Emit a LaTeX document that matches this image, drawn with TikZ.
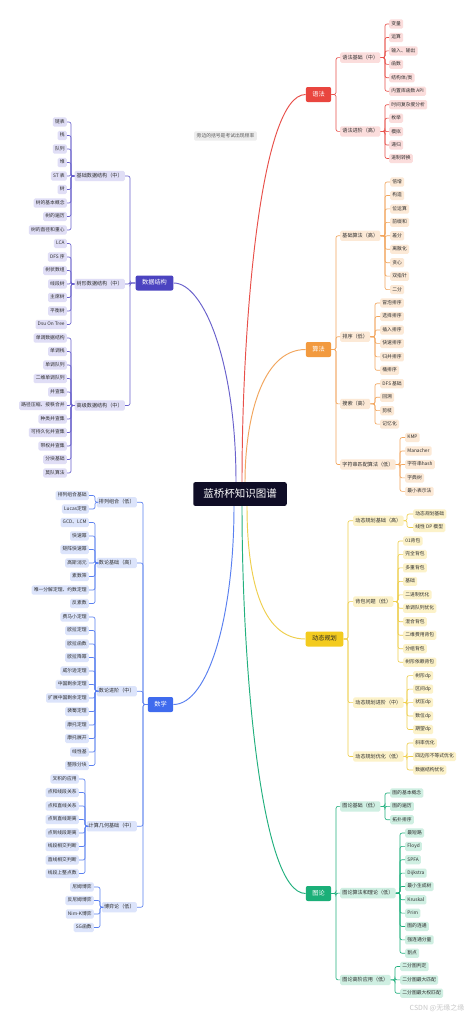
\documentclass[tikz,border=0pt]{standalone}
\usepackage{fontspec}
\setmainfont{Noto Sans CJK SC}

% branch colours
\definecolor{redmain}{HTML}{E9463F}
\definecolor{redline}{HTML}{E8504A}
\definecolor{redfill}{HTML}{FBDDDC}
\definecolor{orangemain}{HTML}{F29A3F}
\definecolor{orangeline}{HTML}{F2A65E}
\definecolor{orangefill}{HTML}{FCE9D6}
\definecolor{yellowmain}{HTML}{F3CB1F}
\definecolor{yellowline}{HTML}{EFCF4E}
\definecolor{yellowfill}{HTML}{FCF2C9}
\definecolor{greenmain}{HTML}{1BAF78}
\definecolor{greenline}{HTML}{22B07E}
\definecolor{greenfill}{HTML}{CFEFE2}
\definecolor{indigomain}{HTML}{4B43C0}
\definecolor{indigoline}{HTML}{6A62CC}
\definecolor{indigofill}{HTML}{E0DEF6}
\definecolor{bluemain}{HTML}{3F6BEE}
\definecolor{blueline}{HTML}{5A80F0}
\definecolor{bluefill}{HTML}{DCE4FB}
\definecolor{titlebg}{HTML}{0F0D26}

\tikzset{
  leaf/.style={rounded corners=1.5pt, inner xsep=2.2pt, inner ysep=2.3pt,
    text height=3.7pt, text depth=0.9pt, text=black!82,
    font=\fontsize{4.8}{5.5}\selectfont},
  sub/.style={leaf, inner ysep=2.6pt, text height=4.1pt, text depth=1pt,
    font=\fontsize{5.1}{6}\selectfont},
  topic/.style={rounded corners=2pt, inner xsep=6.5pt, inner ysep=4.4pt,
    text height=5pt, text depth=1.2pt, text=white,
    font=\fontsize{6.2}{7}\selectfont},
  link/.style={rounded corners=2pt, line width=0.65pt},
  curve/.style={line width=0.95pt},
}

\begin{document}
\begin{tikzpicture}[x=1pt, y=-1pt]

    \useasboundingbox[fill=white] (0,0) rectangle (474,1017);

    % centre and note
    \node[fill=titlebg, rounded corners=2pt, text=white, inner xsep=10pt, inner ysep=6.6pt,
          text height=8.5pt, text depth=2pt, font=\fontsize{10.5}{12}\selectfont]
          (title) at (240,494) {蓝桥杯知识图谱};
    \node[fill=black!7, rounded corners=1.5pt, text=black!65, inner sep=2.5pt,
          font=\fontsize{4.8}{5.5}\selectfont] (note) at (225.5,136) {旁边的括号是考试出现频率};
    \node[text=black!22, font=\fontsize{7}{8}\selectfont] (mark) at (437,1008) {CSDN @无缘之缘};

    % main topics
    \node[topic, fill=redmain] (yufa) at (318.5,94.5) {语法};
    \node[topic, fill=orangemain] (suanfa) at (318.5,349.5) {算法};
    \node[topic, fill=yellowmain, text=black!85] (dongtai) at (324.5,639) {动态规划};
    \node[topic, fill=greenmain] (tulun) at (318.5,893.5) {图论};
    \node[topic, fill=indigomain] (shuju) at (154.5,283) {数据结构};
    \node[topic, fill=bluemain] (shuxue) at (160.5,704.5) {数学};

    % curves from the centre
    \draw[curve, redline] ([xshift=2pt]title.north) .. controls +(0,-160) and +(-45,0) .. (yufa.west);
    \draw[curve, orangeline] ([xshift=5pt]title.north) .. controls +(0,-60) and +(-45,0) .. (suanfa.west);
    \draw[curve, indigoline] ([xshift=-4pt]title.north) .. controls +(0,-120) and +(30,0) .. (shuju.east);
    \draw[curve, yellowline] ([xshift=7pt]title.south) .. controls +(0,70) and +(-45,0) .. (dongtai.west);
    \draw[curve, greenline] ([xshift=2pt]title.south) .. controls +(0,160) and +(-45,0) .. (tulun.west);
    \draw[curve, blueline] ([xshift=-6pt]title.south) .. controls +(0,110) and +(35,0) .. (shuxue.east);

    % ---- 语法 ----
    \node[sub, fill=redfill, anchor=west] (yufaA) at (340,57.6) {语法基础（中）};
    \node[sub, fill=redfill, anchor=west] (yufaB) at (340,131.4) {语法进阶（高）};
    \foreach \s in {yufaA,yufaB} \draw[link, redline] (\s.west) -- ++(-4,0) |- (yufa.east);
    \foreach \t [count=\k from 0] in {变量,运算,输入、输出,函数,结构体/类,内置库函数 API} {
        \node[leaf, fill=redfill, anchor=west] (yufaA\k) at (389,24+13.45*\k) {\t};
        \draw[link, redline] (yufaA\k.west) -- ++(-4,0) |- (yufaA.east);
    }
    \foreach \t [count=\k from 6] in {时间复杂度分析,枚举,模拟,递归,进制转换} {
        \node[leaf, fill=redfill, anchor=west] (yufaB\k) at (389,24+13.45*\k) {\t};
        \draw[link, redline] (yufaB\k.west) -- ++(-4,0) |- (yufaB.east);
    }

    % ---- 算法 ----
    \node[sub, fill=orangefill, anchor=west] (suanfaA) at (340,235.8) {基础算法（高）};
    \node[sub, fill=orangefill, anchor=west] (suanfaB) at (340,336.7) {排序（低）};
    \node[sub, fill=orangefill, anchor=west] (suanfaC) at (340,403.9) {搜索（高）};
    \node[sub, fill=orangefill, anchor=west] (suanfaD) at (340,464.5) {字符串匹配算法（低）};
    \foreach \s in {suanfaA,suanfaB,suanfaC,suanfaD} \draw[link, orangeline] (\s.west) -- ++(-4,0) |- (suanfa.east);
    \foreach \t [count=\k from 0] in {倍增,构造,位运算,前缀和,差分,离散化,贪心,双指针,二分} {
        \node[leaf, fill=orangefill, anchor=west] (suanfaA\k) at (390,182+13.45*\k) {\t};
        \draw[link, orangeline] (suanfaA\k.west) -- ++(-5,0) |- (suanfaA.east);
    }
    \foreach \t [count=\k from 9] in {冒泡排序,选择排序,插入排序,快速排序,归并排序,桶排序} {
        \node[leaf, fill=orangefill, anchor=west] (suanfaB\k) at (380,182+13.45*\k) {\t};
        \draw[link, orangeline] (suanfaB\k.west) -- ++(-5,0) |- (suanfaB.east);
    }
    \foreach \t [count=\k from 15] in {DFS 基础,回溯,剪枝,记忆化} {
        \node[leaf, fill=orangefill, anchor=west] (suanfaC\k) at (380,182+13.45*\k) {\t};
        \draw[link, orangeline] (suanfaC\k.west) -- ++(-5,0) |- (suanfaC.east);
    }
    \foreach \t [count=\k from 19] in {KMP,Manacher,字符串hash,字典树,最小表示法} {
        \node[leaf, fill=orangefill, anchor=west] (suanfaD\k) at (405,182+13.45*\k) {\t};
        \draw[link, orangeline] (suanfaD\k.west) -- ++(-5,0) |- (suanfaD.east);
    }

    % ---- 动态规划 ----
    \node[sub, fill=yellowfill, anchor=west] (dongtaiA) at (353,520.7) {动态规划基础（高）};
    \node[sub, fill=yellowfill, anchor=west] (dongtaiB) at (353,601.6) {背包问题（低）};
    \node[sub, fill=yellowfill, anchor=west] (dongtaiC) at (353,702.6) {动态规划进阶（中）};
    \node[sub, fill=yellowfill, anchor=west] (dongtaiD) at (353,756.5) {动态规划优化（低）};
    \foreach \s in {dongtaiA,dongtaiB,dongtaiC,dongtaiD} \draw[link, yellowline] (\s.west) -- ++(-5,0) |- (dongtai.east);
    \foreach \t [count=\k from 0] in {动态规划基础,线性 DP 模型} {
        \node[leaf, fill=yellowfill, anchor=west] (dongtaiA\k) at (413,514+13.47*\k) {\t};
        \draw[link, yellowline] (dongtaiA\k.west) -- ++(-6,0) |- (dongtaiA.east);
    }
    \foreach \t [count=\k from 2] in {01背包,完全背包,多重背包,基础,二进制优化,单调队列优化,混合背包,二维费用背包,分组背包,树形依赖背包} {
        \node[leaf, fill=yellowfill, anchor=west] (dongtaiB\k) at (403,514+13.47*\k) {\t};
        \draw[link, yellowline] (dongtaiB\k.west) -- ++(-5,0) |- (dongtaiB.east);
    }
    \foreach \t [count=\k from 12] in {树形dp,区间dp,状压dp,数位dp,期望dp} {
        \node[leaf, fill=yellowfill, anchor=west] (dongtaiC\k) at (413,514+13.47*\k) {\t};
        \draw[link, yellowline] (dongtaiC\k.west) -- ++(-6,0) |- (dongtaiC.east);
    }
    \foreach \t [count=\k from 17] in {斜率优化,四边形不等式优化,数据结构优化} {
        \node[leaf, fill=yellowfill, anchor=west] (dongtaiD\k) at (413,514+13.47*\k) {\t};
        \draw[link, yellowline] (dongtaiD\k.west) -- ++(-6,0) |- (dongtaiD.east);
    }

    % ---- 图论 ----
    \node[sub, fill=greenfill, anchor=west] (tulunA) at (340,806.4) {图论基础（低）};
    \node[sub, fill=greenfill, anchor=west] (tulunB) at (340,893.1) {图论算法和理论（低）};
    \node[sub, fill=greenfill, anchor=west] (tulunC) at (340,979.9) {图论高阶应用（低）};
    \foreach \s in {tulunA,tulunB,tulunC} \draw[link, greenline] (\s.west) -- ++(-4,0) |- (tulun.east);
    \foreach \t [count=\k from 0] in {图的基本概念,图的遍历,拓扑排序} {
        \node[leaf, fill=greenfill, anchor=west] (tulunA\k) at (390,793+13.35*\k) {\t};
        \draw[link, greenline] (tulunA\k.west) -- ++(-5,0) |- (tulunA.east);
    }
    \foreach \t [count=\k from 3] in {最短路,Floyd,SPFA,Dijkstra,最小生成树,Kruskal,Prim,图的连通,强连通分量,割点} {
        \node[leaf, fill=greenfill, anchor=west] (tulunB\k) at (405,793+13.35*\k) {\t};
        \draw[link, greenline] (tulunB\k.west) -- ++(-5,0) |- (tulunB.east);
    }
    \foreach \t [count=\k from 13] in {二分图判定,二分图最大匹配,二分图最大权匹配} {
        \node[leaf, fill=greenfill, anchor=west] (tulunC\k) at (400,793+13.35*\k) {\t};
        \draw[link, greenline] (tulunC\k.west) -- ++(-5,0) |- (tulunC.east);
    }

    % ---- 数据结构 ----
    \node[sub, fill=indigofill, anchor=east] (shujuA) at (125,176) {基础数据结构（中）};
    \node[sub, fill=indigofill, anchor=east] (shujuB) at (125,284) {树形数据结构（中）};
    \node[sub, fill=indigofill, anchor=east] (shujuC) at (125,405.5) {高级数据结构（中）};
    \foreach \s in {shujuA,shujuB,shujuC} \draw[link, indigoline] (\s.east) -- ++(5,0) |- (shuju.west);
    \foreach \t [count=\k from 0] in {链表,栈,队列,堆,ST 表,树,树的基本概念,树的遍历,树的直径和重心} {
        \node[leaf, fill=indigofill, anchor=east] (shujuA\k) at (67,122+13.5*\k) {\t};
        \draw[link, indigoline] (shujuA\k.east) -- ++(4,0) |- (shujuA.west);
    }
    \foreach \t [count=\k from 9] in {LCA,DFS 序,树状数组,线段树,主席树,平衡树,Dsu On Tree} {
        \node[leaf, fill=indigofill, anchor=east] (shujuB\k) at (67,122+13.5*\k) {\t};
        \draw[link, indigoline] (shujuB\k.east) -- ++(4,0) |- (shujuB.west);
    }
    \foreach \t [count=\k from 16] in {单调数据结构,单调栈,单调队列,二维单调队列,并查集,路径压缩、按秩合并,种类并查集,可持久化并查集,带权并查集,分块基础,莫队算法} {
        \node[leaf, fill=indigofill, anchor=east] (shujuC\k) at (67,122+13.5*\k) {\t};
        \draw[link, indigoline] (shujuC\k.east) -- ++(4,0) |- (shujuC.west);
    }

    % ---- 数学 ----
    \node[sub, fill=bluefill, anchor=east] (shuxueA) at (137,502.2) {排列组合（低）};
    \node[sub, fill=bluefill, anchor=east] (shuxueB) at (137,563) {数论基础（高）};
    \node[sub, fill=bluefill, anchor=east] (shuxueC) at (137,691.2) {数论进阶（中）};
    \node[sub, fill=bluefill, anchor=east] (shuxueD) at (137,826.2) {计算几何基础（中）};
    \node[sub, fill=bluefill, anchor=east] (shuxueE) at (137,907.2) {博弈论（低）};
    \foreach \s in {shuxueA,shuxueB,shuxueC,shuxueD,shuxueE} \draw[link, blueline] (\s.east) -- ++(6,0) |- (shuxue.west);
    \foreach \t [count=\k from 0] in {排列组合基础,Lucas定理} {
        \node[leaf, fill=bluefill, anchor=east] (shuxueA\k) at (89,495.5+13.5*\k) {\t};
        \draw[link, blueline] (shuxueA\k.east) -- ++(6,0) |- (shuxueA.west);
    }
    \foreach \t [count=\k from 2] in {GCD、LCM,快速幂,矩阵快速幂,高斯消元,素数筛,唯一分解定理、约数定理,反素数} {
        \node[leaf, fill=bluefill, anchor=east] (shuxueB\k) at (89,495.5+13.5*\k) {\t};
        \draw[link, blueline] (shuxueB\k.east) -- ++(6,0) |- (shuxueB.west);
    }
    \foreach \t [count=\k from 9] in {费马小定理,欧拉定理,欧拉函数,欧拉降幂,威尔逊定理,中国剩余定理,扩展中国剩余定理,裴蜀定理,康托定理,康托展开,线性基,整除分块} {
        \node[leaf, fill=bluefill, anchor=east] (shuxueC\k) at (89,495.5+13.5*\k) {\t};
        \draw[link, blueline] (shuxueC\k.east) -- ++(6,0) |- (shuxueC.west);
    }
    \foreach \t [count=\k from 21] in {叉积的应用,点和线段关系,点和直线关系,点到直线距离,点到线段距离,线段相交判断,直线相交判断,线段上整点数} {
        \node[leaf, fill=bluefill, anchor=east] (shuxueD\k) at (79,495.5+13.5*\k) {\t};
        \draw[link, blueline] (shuxueD\k.east) -- ++(6,0) |- (shuxueD.west);
    }
    \foreach \t [count=\k from 29] in {尼姆博弈,反尼姆博弈,Nim-K博弈,SG函数} {
        \node[leaf, fill=bluefill, anchor=east] (shuxueE\k) at (94,495.5+13.5*\k) {\t};
        \draw[link, blueline] (shuxueE\k.east) -- ++(6,0) |- (shuxueE.west);
    }

\end{tikzpicture}
\end{document}
